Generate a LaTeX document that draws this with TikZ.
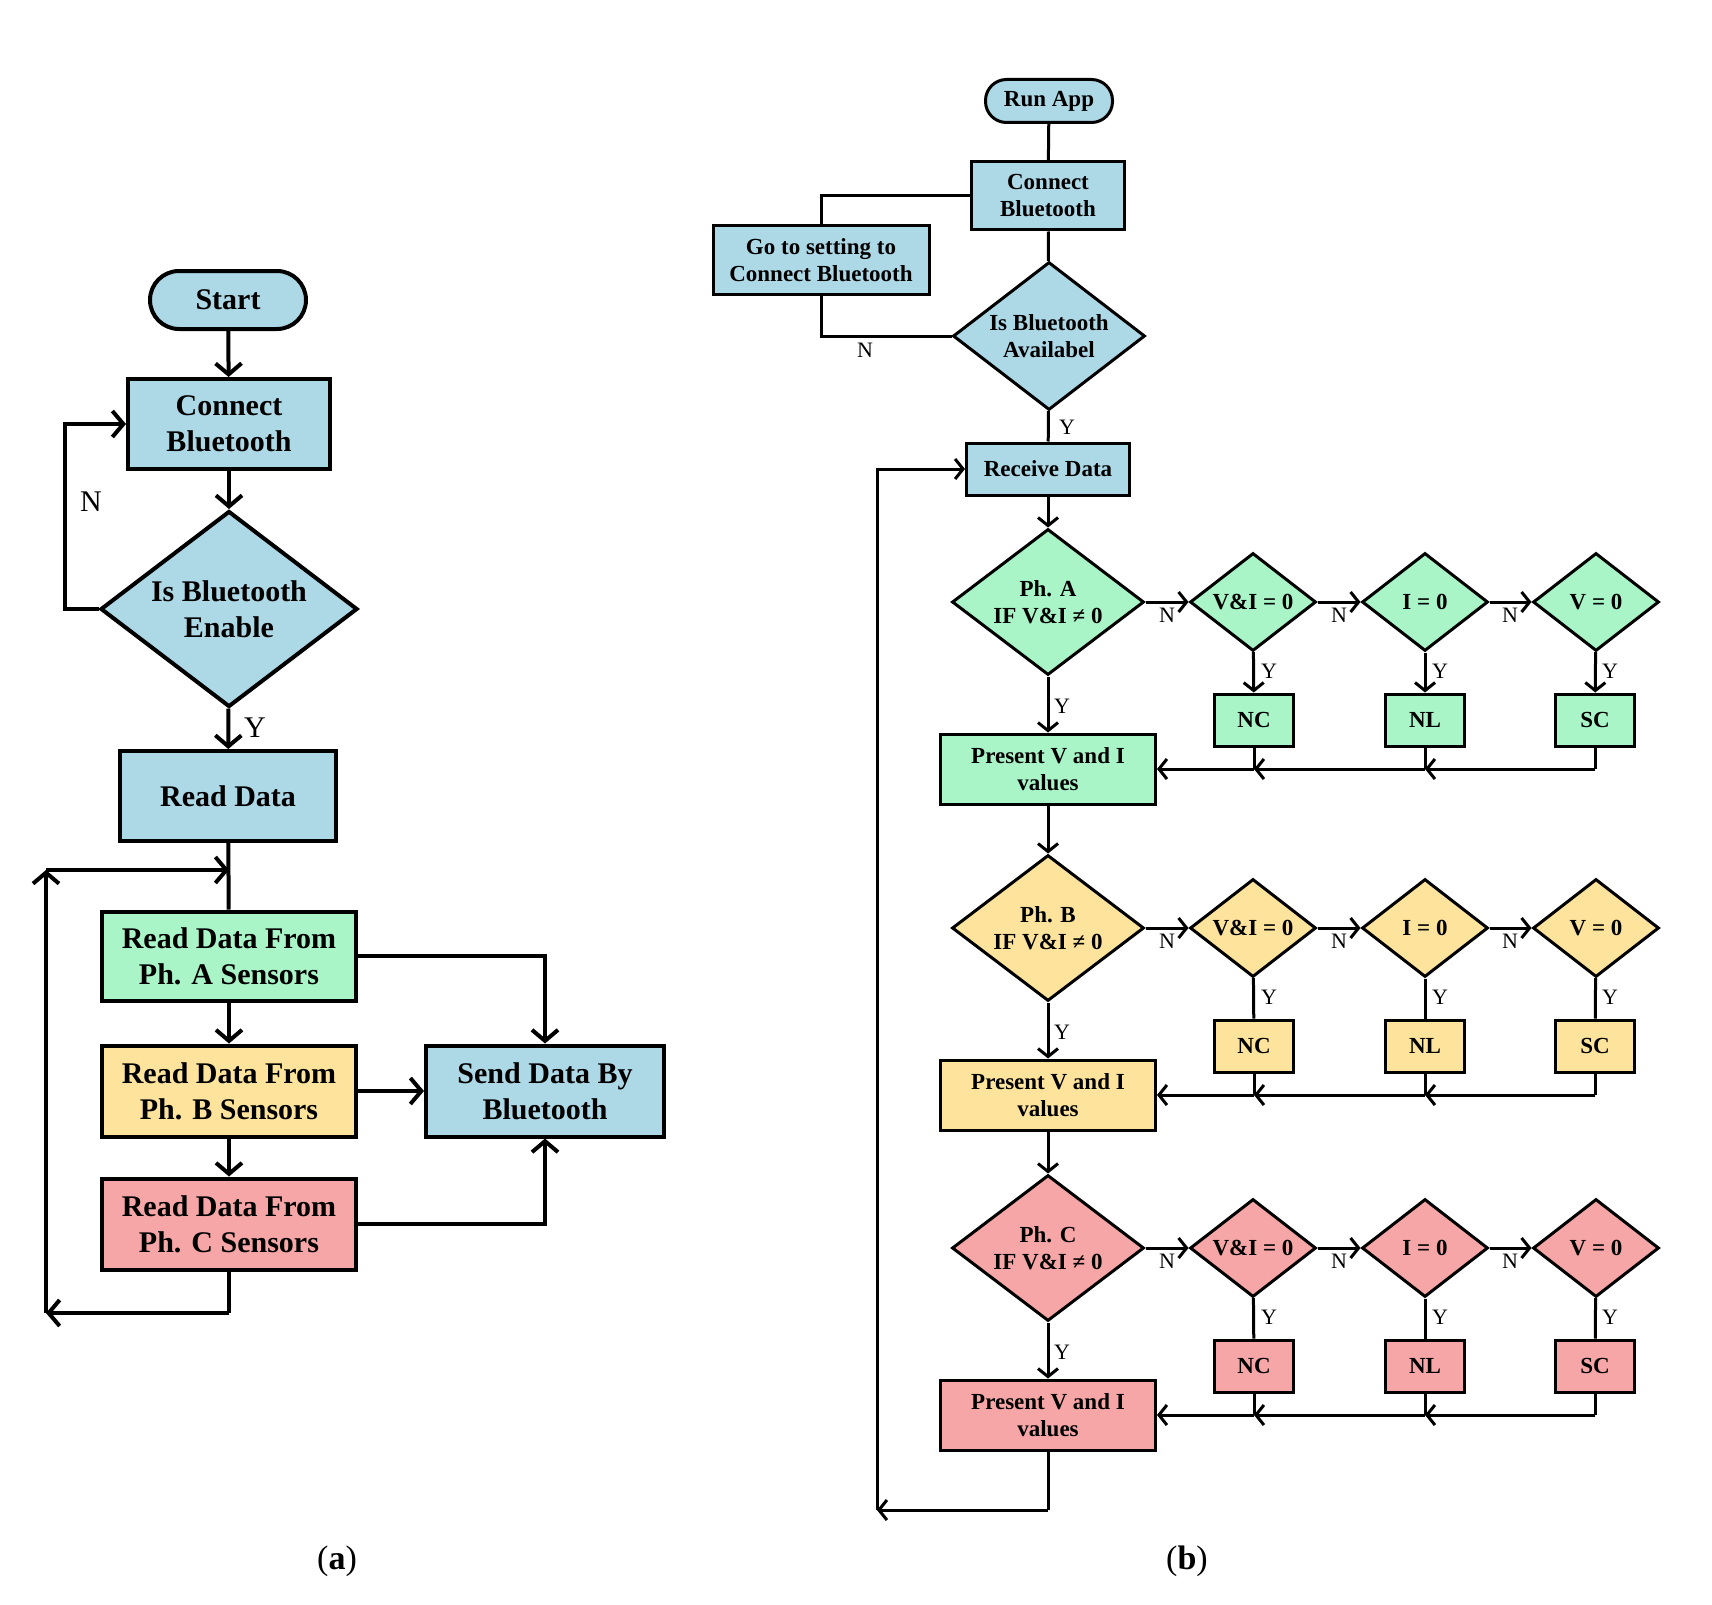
\documentclass[tikz,border=0pt]{standalone}
\usepackage{fontspec}
\setmainfont{Liberation Serif}
\usetikzlibrary{arrows.meta,shapes.geometric}
\definecolor{cblue}{HTML}{ADD8E6}
\definecolor{cgreen}{HTML}{A9F5C7}
\definecolor{cyellow}{HTML}{FDE39C}
\definecolor{cred}{HTML}{F6A6A6}
\tikzset{
  boxa/.style={rectangle, draw, line width=4pt, inner sep=0pt, align=center,
    font=\fontsize{30}{36}\selectfont\bfseries},
  diaa/.style={diamond, aspect=1.31, draw, line width=4pt, inner sep=0pt, align=center,
    font=\fontsize{30}{36}\selectfont\bfseries},
  lnA/.style={line width=4pt},
  arrA/.style={line width=4pt, -{Straight Barb[length=11pt,width=26pt]}},
  boxb/.style={rectangle, draw, line width=3pt, inner sep=0pt, align=center,
    font=\fontsize{23}{27}\selectfont\bfseries},
  diab/.style={diamond, aspect=1.3, draw, line width=3pt, inner sep=0pt, align=center,
    font=\fontsize{23}{27}\selectfont\bfseries},
  lnB/.style={line width=3pt},
  arrB/.style={line width=3pt, -{Straight Barb[length=8pt,width=20pt]}},
  lbla/.style={font=\fontsize{30}{30}\selectfont, inner sep=0pt},
  lblb/.style={font=\fontsize{22}{22}\selectfont, inner sep=0pt},
  capt/.style={font=\fontsize{34}{34}\selectfont, inner sep=0pt}
}
\begin{document}
\begin{tikzpicture}[x=1pt,y=-1pt]
\fill[white] (0,0) rectangle (1712,1605);
\useasboundingbox (0,0) rectangle (1712,1605);

% ---------------- (a) ----------------
\node[boxa, fill=cblue, minimum width=156pt, minimum height=58pt, rounded corners=29pt] (starta) at (228,300) {Start};
\node[boxa, fill=cblue, minimum width=202pt, minimum height=90pt] (cona) at (229,424) {Connect\\Bluetooth};
\node[diaa, fill=cblue, minimum width=257pt, minimum height=196pt] (isa) at (229,609) {Is Bluetooth\\Enable};
\node[boxa, fill=cblue, minimum width=216pt, minimum height=90pt] (reada) at (228,796) {Read Data};
\node[boxa, fill=cgreen, minimum width=254pt, minimum height=89pt] (pha) at (229,956) {Read Data From\\Ph. A Sensors};
\node[boxa, fill=cyellow, minimum width=254pt, minimum height=91pt] (phb) at (229,1091) {Read Data From\\Ph. B Sensors};
\node[boxa, fill=cred, minimum width=254pt, minimum height=91pt] (phc) at (229,1224) {Read Data From\\Ph. C Sensors};
\node[boxa, fill=cblue, minimum width=238pt, minimum height=91pt] (send) at (545,1091) {Send Data By\\Bluetooth};

\draw[arrA] (starta) -- (cona);
\draw[arrA] (cona) -- (isa);
\draw[arrA] (isa.west) -- ++(-34,0) |- (cona.west);
\draw[arrA] (isa) -- (reada);
\draw[lnA] (reada) -- (pha);
\draw[arrA] (pha) -- (phb);
\draw[arrA] (phb) -- (phc);
\draw[arrA] (pha.east) -| (send.north);
\draw[arrA] (phb.east) -- (send.west);
\draw[arrA] (phc.east) -| (send.south);
\coordinate (la1) at (229,1313);
\coordinate (la2) at (46,1313);
\coordinate (la3) at (46,870);
\coordinate (la4) at (229,870);
\draw[lnA] (phc.south) -- (la1);
\draw[arrA] (la1) -- (la2);
\draw[arrA] (la2) -- (la3);
\draw[arrA] (la3) -- (la4);
\node[lbla] (na) at (91,502) {N};
\node[lbla] (ya) at (255,728) {Y};

% ---------------- (b) ----------------
\node[boxb, fill=cblue, minimum width=127pt, minimum height=43pt, rounded corners=21pt] (run) at (1049,101) {Run App};
\node[boxb, fill=cblue, minimum width=153pt, minimum height=68pt] (conb) at (1048,196) {Connect\\Bluetooth};
\node[boxb, fill=cblue, minimum width=216pt, minimum height=69pt] (goto) at (821,260) {Go to setting to\\Connect Bluetooth};
\node[diab, fill=cblue, minimum width=192pt, minimum height=148pt] (isb) at (1049,336) {Is Bluetooth\\Availabel};
\node[boxb, fill=cblue, minimum width=163pt, minimum height=52pt] (recv) at (1048,469) {Receive Data};

\draw[lnB] (run) -- (conb);
\draw[lnB] (conb.west) -| (goto.north);
\draw[lnB] (goto.south) |- (isb.west);
\draw[lnB] (conb) -- (isb);
\draw[lnB] (isb) -- (recv);
\node[lblb] (nb) at (865,350) {N};
\node[lblb] (yb) at (1067,427) {Y};

\foreach \k/\Y/\c/\ph/\ys in {a/602/cgreen/A/arrB, b/928/cyellow/B/lnB, c/1248/cred/C/lnB}{
  \node[diab, fill=\c, minimum width=192pt, minimum height=146pt] (ph\k) at (1048,\Y) {Ph. \ph\\IF V\&I ≠ 0};
  \node[diab, fill=\c, minimum width=126pt, minimum height=98pt] (da\k) at (1253,\Y) {V\&I = 0};
  \node[diab, fill=\c, minimum width=126pt, minimum height=98pt] (db\k) at (1425,\Y) {I = 0};
  \node[diab, fill=\c, minimum width=126pt, minimum height=98pt] (dc\k) at (1596,\Y) {V = 0};
  \node[boxb, fill=\c, minimum width=79pt, minimum height=52pt] (nc\k) at (1254,\Y+118) {NC};
  \node[boxb, fill=\c, minimum width=79pt, minimum height=52pt] (nl\k) at (1425,\Y+118) {NL};
  \node[boxb, fill=\c, minimum width=79pt, minimum height=52pt] (sc\k) at (1595,\Y+118) {SC};
  \node[boxb, fill=\c, minimum width=215pt, minimum height=70pt] (pr\k) at (1048,\Y+167) {Present V and I\\values};
  \draw[arrB] (ph\k.east) -- (da\k.west);
  \draw[arrB] (da\k.east) -- (db\k.west);
  \draw[arrB] (db\k.east) -- (dc\k.west);
  \draw[\ys] (da\k) -- (nc\k);
  \draw[\ys] (db\k) -- (nl\k);
  \draw[\ys] (dc\k) -- (sc\k);
  \draw[arrB] (ph\k) -- (pr\k);
  \coordinate (jsc\k) at (1595,\Y+167);
  \coordinate (jnl\k) at (1425,\Y+167);
  \coordinate (jnc\k) at (1254,\Y+167);
  \draw[lnB] (sc\k) -- (jsc\k);
  \draw[lnB] (nl\k) -- (jnl\k);
  \draw[lnB] (nc\k) -- (jnc\k);
  \draw[arrB] (jsc\k) -- (jnl\k);
  \draw[arrB] (jnl\k) -- (jnc\k);
  \draw[arrB] (jnc\k) -- (pr\k.east);
  \node[lblb] (n1\k) at (1167,\Y+13) {N};
  \node[lblb] (n2\k) at (1339,\Y+13) {N};
  \node[lblb] (n3\k) at (1510,\Y+13) {N};
  \node[lblb] (y0\k) at (1062,\Y+104) {Y};
  \node[lblb] (y1\k) at (1269,\Y+69) {Y};
  \node[lblb] (y2\k) at (1440,\Y+69) {Y};
  \node[lblb] (y3\k) at (1610,\Y+69) {Y};
}
\draw[arrB] (recv) -- (pha);
\draw[arrB] (pra) -- (phb);
\draw[arrB] (prb) -- (phc);
\coordinate (lb1) at (1048,1510);
\coordinate (lb2) at (877,1510);
\draw[lnB] (prc.south) -- (lb1);
\draw[arrB] (lb1) -- (lb2);
\draw[arrB] (lb2) |- (recv.west);

% captions
\node[capt] (capa) at (337,1561) {(\textbf{a})};
\node[capt] (capb) at (1187,1561) {(\textbf{b})};
\end{tikzpicture}
\end{document}
